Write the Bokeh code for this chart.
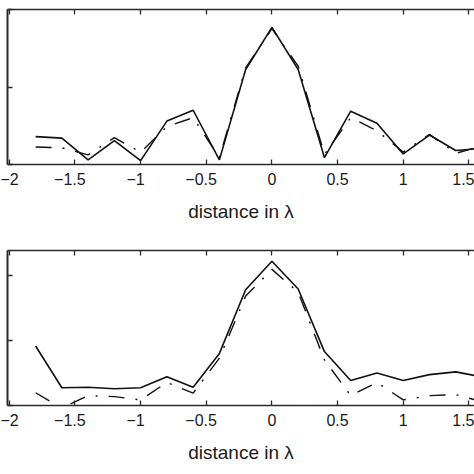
from bokeh.plotting import figure
from bokeh.layouts import column
from bokeh.models import LinearAxis, FixedTicker, Range1d, CustomLabelingPolicy, Spacer
from bokeh.embed import file_html
from bokeh.resources import INLINE

# ---- data ----
x_pos = [-1.8, -1.6, -1.4, -1.2, -1.0, -0.8, -0.6, -0.4, -0.2, 0.0,
         0.2, 0.4, 0.6, 0.8, 1.0, 1.2, 1.4, 1.6]

top_solid = [0.18, 0.17, 0.03, 0.154, 0.025, 0.28, 0.35, 0.03, 0.613, 0.885,
             0.613, 0.045, 0.344, 0.266, 0.068, 0.19, 0.09, 0.105]
top_dashdot = [0.113, 0.108, 0.062, 0.173, 0.079, 0.245, 0.302, 0.045, 0.624, 0.876,
               0.635, 0.066, 0.302, 0.218, 0.08, 0.195, 0.072, 0.12]

bot_solid = [0.457, 0.136, 0.14, 0.129, 0.136, 0.22, 0.14, 0.40, 0.889, 1.108,
             0.894, 0.414, 0.192, 0.25, 0.192, 0.237, 0.258, 0.22]
bot_dashdot = [0.098, -0.02, 0.076, 0.068, 0.043, 0.177, 0.095, 0.364, 0.84, 1.045,
               0.87, 0.35, 0.076, 0.177, 0.043, 0.076, 0.083, 0.03]

x_ticks = [-2, -1.5, -1, -0.5, 0, 0.5, 1, 1.5]
x_tick_labels = ["\u22122", "\u22121.5", "\u22121", "\u22120.5", "0", "0.5", "1", "1.5"]
top_y_ticks = [0, 0.5, 1.0]
bot_y_ticks = [0, 0.5, 1.0]
x_label = "distance in \u03bb"

FONT = "Liberation Sans"
INK = "#1a1a1a"
AX = "#2a2a2a"

HIDE = CustomLabelingPolicy(code="""
for (const i of indices) indices.unset(i)
return indices
""")


def style_ticks(ax):
    ax.major_tick_in = 5
    ax.major_tick_out = 0
    ax.minor_tick_in = 0
    ax.minor_tick_out = 0
    ax.axis_line_color = AX
    ax.axis_line_width = 1.5
    ax.major_tick_line_color = AX
    ax.major_tick_line_width = 1.3


def hidden_labels(ax):
    ax.major_label_policy = HIDE
    ax.major_label_standoff = 0
    ax.major_label_text_font_size = "1px"


def make_panel(height, bottom_border, ymax, yticks, s_solid, s_dd):
    p = figure(width=474, height=height, output_backend="svg", toolbar_location=None,
               x_range=Range1d(-2.014, 1.543), y_range=Range1d(0, ymax),
               x_axis_location=None, y_axis_location=None,
               min_border_left=7, min_border_right=0, min_border_top=0,
               min_border_bottom=bottom_border)
    p.outline_line_color = None
    p.grid.visible = False
    p.background_fill_color = "white"
    p.border_fill_color = "white"

    overrides = {}
    for t, lab in zip(x_ticks, x_tick_labels):
        if t < 0:
            lab = lab + "\u2007\u200a"
        overrides[t] = lab

    xb = LinearAxis(ticker=FixedTicker(ticks=x_ticks), axis_label=x_label)
    xb.major_label_overrides = overrides
    xb.major_label_text_font = FONT
    xb.major_label_text_font_size = "16px"
    xb.major_label_text_color = INK
    xb.major_label_standoff = 6
    xb.axis_label_text_font = FONT
    xb.axis_label_text_font_size = "19px"
    xb.axis_label_text_font_style = "normal"
    xb.axis_label_text_color = INK
    xb.axis_label_standoff = 10
    style_ticks(xb)
    p.add_layout(xb, "below")

    xt = LinearAxis(ticker=FixedTicker(ticks=x_ticks))
    hidden_labels(xt)
    style_ticks(xt)
    p.add_layout(xt, "above")

    yl = LinearAxis(ticker=FixedTicker(ticks=yticks))
    hidden_labels(yl)
    style_ticks(yl)
    yl.axis_line_width = 2
    p.add_layout(yl, "left")

    p.line(x_pos, s_dd, line_color="#111111", line_width=1.4, line_dash="16 11 2 11")
    p.line(x_pos, s_solid, line_color="#111111", line_width=1.6)
    return p


top_gap = Spacer(width=474, height=5)
p1 = make_panel(241, 82, 1.0, top_y_ticks, top_solid, top_dashdot)
p2 = make_panel(226, 67, 1.19, bot_y_ticks, bot_solid, bot_dashdot)

p = column(top_gap, p1, p2, spacing=0)
open("out.html", "w").write(file_html(p, INLINE))
